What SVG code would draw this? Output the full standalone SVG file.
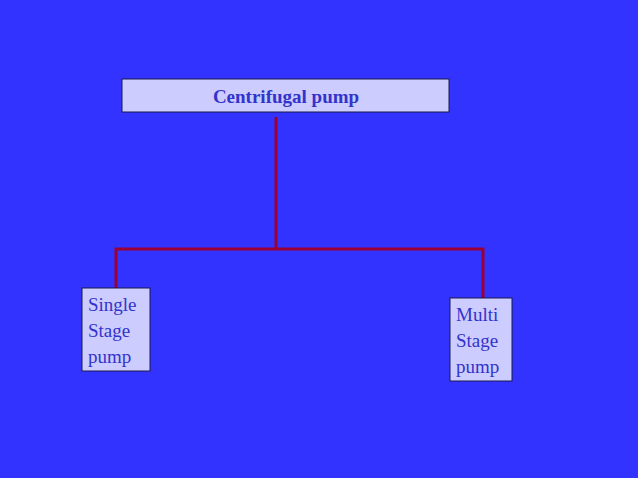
<svg xmlns="http://www.w3.org/2000/svg" width="638" height="478" viewBox="0 0 638 478">
<style>
.box{fill:#ccccff;stroke:#1a1a4d;stroke-width:1}
.t{font-family:"Liberation Serif",serif;font-size:19px;fill:#3333cc}
.c{fill:none;stroke:#990033;stroke-width:3}
</style>
<rect width="638" height="478" fill="#3333ff"/>
<g id="connectors">
<path class="c" d="M276 117V248M116 288V249H483V298"/>
</g>
<g id="root"><rect class="box" x="122" y="79" width="327" height="33"/><text class="t" x="286" y="103" text-anchor="middle" font-weight="bold">Centrifugal pump</text></g>
<g id="single"><rect class="box" x="82" y="288" width="68" height="83"/><text class="t" x="88" y="311">Single</text><text class="t" x="88" y="337">Stage</text><text class="t" x="88" y="363">pump</text></g>
<g id="multi"><rect class="box" x="450" y="298" width="62" height="83"/><text class="t" x="456" y="321">Multi</text><text class="t" x="456" y="347">Stage</text><text class="t" x="456" y="373">pump</text></g>
</svg>
